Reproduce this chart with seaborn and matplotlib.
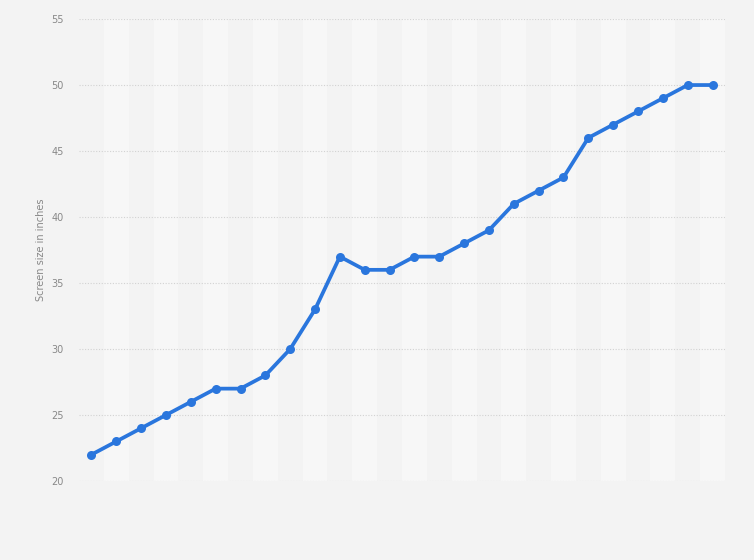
import numpy as np
import pandas as pd
import matplotlib
matplotlib.use("Agg")
import matplotlib.pyplot as plt
import seaborn as sns

# screen size in inches, one point per period (x labels are not shown in the source)
periods = list(range(26))
screen_size = [22, 23, 24, 25, 26, 27, 27, 28, 30, 33, 37, 36, 36, 37, 37,
               38, 39, 41, 42, 43, 46, 47, 48, 49, 50, 50]
y_ticks = [20, 25, 30, 35, 40, 45, 50, 55]

sns.set_style("white")
plt.rcParams['font.family'] = ['DejaVu Sans']

df = pd.DataFrame({'period': periods, 'size': screen_size})

fig = plt.figure(figsize=(7.54, 5.6), dpi=100)
fig.patch.set_facecolor('#f3f3f3')
ax = fig.add_axes([0.1048, 0.141, 0.8567, 0.825])
ax.set_facecolor('#f3f3f3')

# alternating column bands
for i in periods:
    if i % 2 == 1:
        ax.axvspan(i - 0.5, i + 0.5, color='#f7f7f7', zorder=0, lw=0)

for t in y_ticks:
    ax.axhline(t, color='#d2d2d2', lw=0.8, ls=(0, (1, 1.5)), zorder=1)

sns.lineplot(data=df, x='period', y='size', ax=ax, color='#2a76dd',
             linewidth=2.7, marker='o', markersize=6.5, markeredgewidth=0,
             zorder=3)

ax.set_xlim(-0.5, len(periods) - 0.5)
ax.set_ylim(20, 55)
ax.set_yticks(y_ticks)
ax.set_xticks([])
ax.set_xlabel('')
ax.set_ylabel('Screen size in inches', fontsize=7, color='#888888', labelpad=4)
ax.tick_params(axis='y', length=0, labelsize=7, labelcolor='#888888', pad=11)
for s in ax.spines.values():
    s.set_visible(False)

fig.savefig('out.png', dpi=100, facecolor=fig.get_facecolor())
